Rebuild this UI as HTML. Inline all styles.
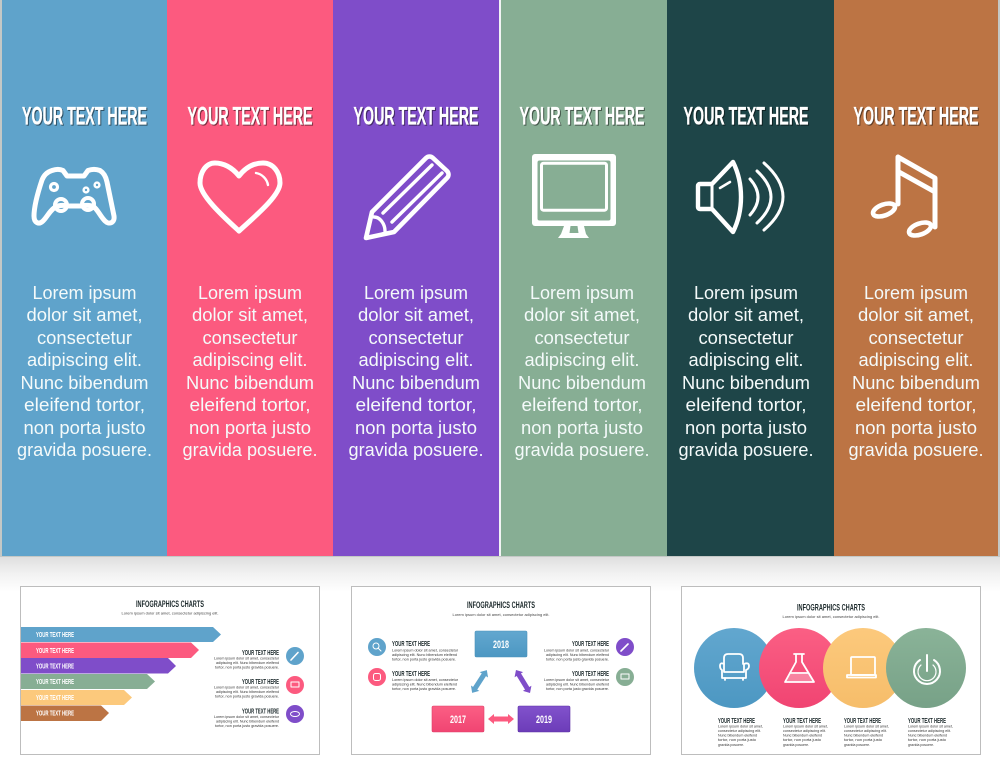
<!DOCTYPE html>
<html lang="en">
<head>
<meta charset="utf-8">
<title>Infographics Charts Template Preview</title>
<style>
html,body{margin:0;padding:0;background:#fff;width:1000px;height:778px;overflow:hidden}
svg{display:block}
.h{font-family:"Liberation Sans Narrow","Liberation Sans",sans-serif;font-weight:700}
.big{font-size:25px;fill:#fff;stroke:#fff;stroke-width:.35px;text-anchor:middle;filter:drop-shadow(1.5px 1.5px 0 rgba(0,0,0,.5))}
.body{font-family:"Liberation Sans",sans-serif;font-size:18px;fill:#f4fafa;text-anchor:middle}
.ic{fill:none;stroke:#fff;stroke-linecap:round;stroke-linejoin:round}
.tt{font-size:9px;fill:#1d2a2c;text-anchor:middle}
.sub{font-family:"Liberation Sans",sans-serif;font-size:4px;fill:#444;text-anchor:middle}
.lb{font-size:7.5px;fill:#fff}
.st{font-size:7.5px;fill:#1d2a2c}
.tx{font-family:"Liberation Sans",sans-serif;font-size:3.8px;fill:#333}
.yr{font-size:11px;fill:#fff;text-anchor:middle}
.tn{fill:none;stroke:#fff;stroke-linecap:round;stroke-linejoin:round}
.thumb{filter:blur(.3px)}
</style>
</head>
<body>
<svg width="1000" height="778" viewBox="0 0 1000 778" xmlns="http://www.w3.org/2000/svg">
<defs>
<linearGradient id="shade" x1="0" y1="0" x2="0" y2="1"><stop offset="0" stop-color="#dedede"/><stop offset=".5" stop-color="#f2f2f2"/><stop offset="1" stop-color="#ffffff"/></linearGradient>
<linearGradient id="gb" x1="0" y1="0" x2="0" y2="1"><stop offset="0" stop-color="#62a7cf"/><stop offset="1" stop-color="#4c97c2"/></linearGradient>
<linearGradient id="gp" x1="0" y1="0" x2="0" y2="1"><stop offset="0" stop-color="#fb5f84"/><stop offset="1" stop-color="#f04472"/></linearGradient>
<linearGradient id="gv" x1="0" y1="0" x2="0" y2="1"><stop offset="0" stop-color="#8152cc"/><stop offset="1" stop-color="#6c3cb8"/></linearGradient>
<linearGradient id="gy" x1="0" y1="0" x2="0" y2="1"><stop offset="0" stop-color="#fcc97c"/><stop offset="1" stop-color="#f6bd6a"/></linearGradient>
<linearGradient id="gg" x1="0" y1="0" x2="0" y2="1"><stop offset="0" stop-color="#8ab398"/><stop offset="1" stop-color="#77a187"/></linearGradient>
</defs>

<rect x="0" y="0" width="1000" height="778" fill="#fff"/>
<rect x="0" y="556" width="1000" height="36" fill="url(#shade)"/>

<g>
<rect x="0" y="0" width="1000" height="557" fill="#c4c8c6"/>
<rect x="2" y="0" width="165" height="556" fill="#5fa3cb"/>
<rect x="167" y="0" width="166" height="556" fill="#fc5a7f"/>
<rect x="333" y="0" width="166" height="556" fill="#7f4dc9"/>
<rect x="499" y="0" width="2" height="556" fill="#f2f4f4"/>
<rect x="501" y="0" width="166" height="556" fill="#87ae94"/>
<rect x="667" y="0" width="167" height="556" fill="#1e4548"/>
<rect x="834" y="0" width="164" height="556" fill="#bc7444"/>

<g class="h big">
<text x="84.5" y="124.500" textLength="125" lengthAdjust="spacingAndGlyphs">YOUR TEXT HERE</text>
<text x="250" y="124.500" textLength="125" lengthAdjust="spacingAndGlyphs">YOUR TEXT HERE</text>
<text x="416" y="124.500" textLength="125" lengthAdjust="spacingAndGlyphs">YOUR TEXT HERE</text>
<text x="582" y="124.500" textLength="125" lengthAdjust="spacingAndGlyphs">YOUR TEXT HERE</text>
<text x="746" y="124.500" textLength="125" lengthAdjust="spacingAndGlyphs">YOUR TEXT HERE</text>
<text x="916" y="124.500" textLength="125" lengthAdjust="spacingAndGlyphs">YOUR TEXT HERE</text>
</g>

<g class="ic" stroke-width="5">
<path d="M52 170.500 C56 169 60 169 63 170.500 L67 176 L84 176 L88 170.500 C92 169 96 169 100 170.500 C104 173 106 177 107 182 L114 216 C115 223 109 225 105 221 C100 216 98 210 94 207 C91 205 85 205 81 206 L68 206 C64 205 57 205 54 208 C49 212 47 217 43 221 C39 225 34 223 34 216 C34 206 38 192 42 180 C44 175 47 172 52 170.500Z"/>
<circle cx="54" cy="187" r="3.500" stroke-width="3.200"/><circle cx="86" cy="190" r="2.400" stroke-width="2.400"/><circle cx="97" cy="185" r="2.400" stroke-width="2.400"/><circle cx="61" cy="205" r="6" stroke-width="4"/><circle cx="88" cy="204" r="6" stroke-width="4"/>
</g>
<g class="ic" stroke-width="5">
<path d="M239 176 C232 167 223 163 215 163 C206 163 200 172 200 183 C200 196 226 219 239 231 C253 218 280 196 280 183 C280 172 273 163 263 163 C254 163 246 167 239 176Z"/>
<path d="M256 173 C262 174 267 179 268 185" stroke-width="2.400"/>
</g>
<g class="ic" stroke-width="4.600">
<path d="M366 238 L372 212 L426 158 C428 156 431 156 433 158 L447 171 C449 173 449 176 447 178 L394 232Z"/>
<path d="M383 213 L432 165 M392 222 L442 173 M374 217 C380 217 385 224 385 231" stroke-width="3.400"/>
</g>
<g>
<rect x="532" y="154" width="84" height="72" rx="3" fill="#fff"/>
<rect x="537.500" y="160.500" width="73" height="60" rx="2" fill="#87ae94"/>
<rect x="541.500" y="163.200" width="65" height="47" rx="2" fill="none" stroke="#fff" stroke-width="3"/>
<path d="M564 226 L584 226 L586 234 L589 238 L558 238 L561 234Z" fill="#fff"/>
<path d="M570.500 226 L577.500 226 L578.500 233 L569.500 233Z" fill="#87ae94"/>
</g>
<g class="ic" stroke-width="4.400">
<path d="M712 184 L700 184 Q698 184 698 186 L698 207 Q698 209 700 209 L712 209 L733 232 C739 220 741 208 741 197 C741 186 739 174 733 162Z"/>
<path d="M712 184 L712 209" stroke-width="3"/>
<path d="M720 188 L730 182" stroke-width="2.500"/>
<path d="M750 179 Q766 197 750 215 M757 171 Q785 197 757 223 M764 163 Q802 197 764 230" stroke-width="3"/>
</g>
<g class="ic" stroke-width="5">
<path d="M898 157 L898 204 M898 157 L935 178 L935 227 M899 172 L935 192"/>
<ellipse cx="884" cy="210" rx="11.500" ry="5.500" transform="rotate(-20 884 210)" stroke-width="4.600"/>
<ellipse cx="920" cy="229" rx="11.500" ry="5.500" transform="rotate(-20 920 229)" stroke-width="4.600"/>
</g>

<g class="body">
<text x="84.500" y="299" textLength="104" lengthAdjust="spacingAndGlyphs">Lorem ipsum</text>
<text x="84.500" y="321" textLength="116" lengthAdjust="spacingAndGlyphs">dolor sit amet,</text>
<text x="84.500" y="344" textLength="95" lengthAdjust="spacingAndGlyphs">consectetur</text>
<text x="84.500" y="366" textLength="115" lengthAdjust="spacingAndGlyphs">adipiscing elit.</text>
<text x="84.500" y="389" textLength="128" lengthAdjust="spacingAndGlyphs">Nunc bibendum</text>
<text x="84.500" y="411" textLength="121" lengthAdjust="spacingAndGlyphs">eleifend tortor,</text>
<text x="84.500" y="434" textLength="122" lengthAdjust="spacingAndGlyphs">non porta justo</text>
<text x="84.500" y="456" textLength="135" lengthAdjust="spacingAndGlyphs">gravida posuere.</text>
</g>
<g class="body">
<text x="250" y="299" textLength="104" lengthAdjust="spacingAndGlyphs">Lorem ipsum</text>
<text x="250" y="321" textLength="116" lengthAdjust="spacingAndGlyphs">dolor sit amet,</text>
<text x="250" y="344" textLength="95" lengthAdjust="spacingAndGlyphs">consectetur</text>
<text x="250" y="366" textLength="115" lengthAdjust="spacingAndGlyphs">adipiscing elit.</text>
<text x="250" y="389" textLength="128" lengthAdjust="spacingAndGlyphs">Nunc bibendum</text>
<text x="250" y="411" textLength="121" lengthAdjust="spacingAndGlyphs">eleifend tortor,</text>
<text x="250" y="434" textLength="122" lengthAdjust="spacingAndGlyphs">non porta justo</text>
<text x="250" y="456" textLength="135" lengthAdjust="spacingAndGlyphs">gravida posuere.</text>
</g>
<g class="body">
<text x="416" y="299" textLength="104" lengthAdjust="spacingAndGlyphs">Lorem ipsum</text>
<text x="416" y="321" textLength="116" lengthAdjust="spacingAndGlyphs">dolor sit amet,</text>
<text x="416" y="344" textLength="95" lengthAdjust="spacingAndGlyphs">consectetur</text>
<text x="416" y="366" textLength="115" lengthAdjust="spacingAndGlyphs">adipiscing elit.</text>
<text x="416" y="389" textLength="128" lengthAdjust="spacingAndGlyphs">Nunc bibendum</text>
<text x="416" y="411" textLength="121" lengthAdjust="spacingAndGlyphs">eleifend tortor,</text>
<text x="416" y="434" textLength="122" lengthAdjust="spacingAndGlyphs">non porta justo</text>
<text x="416" y="456" textLength="135" lengthAdjust="spacingAndGlyphs">gravida posuere.</text>
</g>
<g class="body">
<text x="582" y="299" textLength="104" lengthAdjust="spacingAndGlyphs">Lorem ipsum</text>
<text x="582" y="321" textLength="116" lengthAdjust="spacingAndGlyphs">dolor sit amet,</text>
<text x="582" y="344" textLength="95" lengthAdjust="spacingAndGlyphs">consectetur</text>
<text x="582" y="366" textLength="115" lengthAdjust="spacingAndGlyphs">adipiscing elit.</text>
<text x="582" y="389" textLength="128" lengthAdjust="spacingAndGlyphs">Nunc bibendum</text>
<text x="582" y="411" textLength="121" lengthAdjust="spacingAndGlyphs">eleifend tortor,</text>
<text x="582" y="434" textLength="122" lengthAdjust="spacingAndGlyphs">non porta justo</text>
<text x="582" y="456" textLength="135" lengthAdjust="spacingAndGlyphs">gravida posuere.</text>
</g>
<g class="body">
<text x="746" y="299" textLength="104" lengthAdjust="spacingAndGlyphs">Lorem ipsum</text>
<text x="746" y="321" textLength="116" lengthAdjust="spacingAndGlyphs">dolor sit amet,</text>
<text x="746" y="344" textLength="95" lengthAdjust="spacingAndGlyphs">consectetur</text>
<text x="746" y="366" textLength="115" lengthAdjust="spacingAndGlyphs">adipiscing elit.</text>
<text x="746" y="389" textLength="128" lengthAdjust="spacingAndGlyphs">Nunc bibendum</text>
<text x="746" y="411" textLength="121" lengthAdjust="spacingAndGlyphs">eleifend tortor,</text>
<text x="746" y="434" textLength="122" lengthAdjust="spacingAndGlyphs">non porta justo</text>
<text x="746" y="456" textLength="135" lengthAdjust="spacingAndGlyphs">gravida posuere.</text>
</g>
<g class="body">
<text x="916" y="299" textLength="104" lengthAdjust="spacingAndGlyphs">Lorem ipsum</text>
<text x="916" y="321" textLength="116" lengthAdjust="spacingAndGlyphs">dolor sit amet,</text>
<text x="916" y="344" textLength="95" lengthAdjust="spacingAndGlyphs">consectetur</text>
<text x="916" y="366" textLength="115" lengthAdjust="spacingAndGlyphs">adipiscing elit.</text>
<text x="916" y="389" textLength="128" lengthAdjust="spacingAndGlyphs">Nunc bibendum</text>
<text x="916" y="411" textLength="121" lengthAdjust="spacingAndGlyphs">eleifend tortor,</text>
<text x="916" y="434" textLength="122" lengthAdjust="spacingAndGlyphs">non porta justo</text>
<text x="916" y="456" textLength="135" lengthAdjust="spacingAndGlyphs">gravida posuere.</text>
</g>
</g>

<!-- Thumbnail 1 -->
<g class="thumb">
<rect x="20.500" y="586.500" width="299" height="168" fill="#fff" stroke="#bdbdbd"/>
<text class="h tt" x="170" y="607" textLength="68" lengthAdjust="spacingAndGlyphs">INFOGRAPHICS CHARTS</text>
<text class="sub" x="170" y="614.500" textLength="97" lengthAdjust="spacingAndGlyphs">Lorem ipsum dolor sit amet, consectetur adipiscing elit.</text>
<path d="M21 627 H213 L221 634.500 L213 642 H21Z" fill="#5fa3cb"/>
<path d="M21 642.500 H191 L199 650 L191 658 H21Z" fill="#fc5a7f"/>
<path d="M21 658 H168 L176 666 L168 673.500 H21Z" fill="#7f4dc9"/>
<path d="M21 674 H147 L155 681.500 L147 689 H21Z" fill="#87ae94"/>
<path d="M21 690 H124 L132 697.500 L124 705 H21Z" fill="#fcc97c"/>
<path d="M21 705.500 H101 L109 713 L101 721 H21Z" fill="#bc7444"/>
<g class="h lb">
<text x="36" y="637" textLength="38" lengthAdjust="spacingAndGlyphs">YOUR TEXT HERE</text>
<text x="36" y="653" textLength="38" lengthAdjust="spacingAndGlyphs">YOUR TEXT HERE</text>
<text x="36" y="668.500" textLength="38" lengthAdjust="spacingAndGlyphs">YOUR TEXT HERE</text>
<text x="36" y="684" textLength="38" lengthAdjust="spacingAndGlyphs">YOUR TEXT HERE</text>
<text x="36" y="700" textLength="38" lengthAdjust="spacingAndGlyphs">YOUR TEXT HERE</text>
<text x="36" y="715.500" textLength="38" lengthAdjust="spacingAndGlyphs">YOUR TEXT HERE</text>
</g>
<g class="h st">
<text x="242" y="655" textLength="37" lengthAdjust="spacingAndGlyphs">YOUR TEXT HERE</text>
<text x="242" y="684" textLength="37" lengthAdjust="spacingAndGlyphs">YOUR TEXT HERE</text>
<text x="242" y="713.500" textLength="37" lengthAdjust="spacingAndGlyphs">YOUR TEXT HERE</text>
</g>
<g class="tx">
<text x="214" y="659.500" textLength="65" lengthAdjust="spacingAndGlyphs">Lorem ipsum dolor sit amet, consectetur</text>
<text x="216" y="664" textLength="63" lengthAdjust="spacingAndGlyphs">adipiscing elit. Nunc bibendum eleifend</text>
<text x="215" y="668.500" textLength="64" lengthAdjust="spacingAndGlyphs">tortor, non porta justo gravida posuere.</text>
<text x="214" y="688.500" textLength="65" lengthAdjust="spacingAndGlyphs">Lorem ipsum dolor sit amet, consectetur</text>
<text x="216" y="693" textLength="63" lengthAdjust="spacingAndGlyphs">adipiscing elit. Nunc bibendum eleifend</text>
<text x="215" y="697.500" textLength="64" lengthAdjust="spacingAndGlyphs">tortor, non porta justo gravida posuere.</text>
<text x="214" y="718" textLength="65" lengthAdjust="spacingAndGlyphs">Lorem ipsum dolor sit amet, consectetur</text>
<text x="216" y="722.500" textLength="63" lengthAdjust="spacingAndGlyphs">adipiscing elit. Nunc bibendum eleifend</text>
<text x="215" y="727" textLength="64" lengthAdjust="spacingAndGlyphs">tortor, non porta justo gravida posuere.</text>
</g>
<g>
<circle cx="295" cy="656" r="9" fill="#5fa3cb"/><path class="tn" d="M291 660 L298 652.500" stroke-width="1.600"/>
<circle cx="295" cy="685" r="9" fill="#fc5a7f"/><rect class="tn" x="291" y="682" width="8" height="5"/>
<circle cx="295" cy="714" r="9" fill="#7f4dc9"/><ellipse class="tn" cx="295" cy="714" rx="4.500" ry="2.500"/>
</g>
</g>

<!-- Thumbnail 2 -->
<g class="thumb">
<rect x="351.500" y="586.500" width="299" height="168" fill="#fff" stroke="#bdbdbd"/>
<text class="h tt" x="501" y="608" textLength="68" lengthAdjust="spacingAndGlyphs">INFOGRAPHICS CHARTS</text>
<text class="sub" x="501" y="616" textLength="97" lengthAdjust="spacingAndGlyphs">Lorem ipsum dolor sit amet, consectetur adipiscing elit.</text>
<rect x="475" y="631" width="52" height="26" rx="1.500" fill="url(#gb)" stroke="#4c93bb" stroke-width=".6"/>
<rect x="432" y="706" width="52" height="26" rx="1.500" fill="url(#gp)" stroke="#e0406a" stroke-width=".6"/>
<rect x="518" y="706" width="52" height="26" rx="1.500" fill="url(#gv)" stroke="#5c30a4" stroke-width=".6"/>
<text class="h yr" x="501" y="648" textLength="16" lengthAdjust="spacingAndGlyphs">2018</text>
<text class="h yr" x="458" y="723" textLength="16" lengthAdjust="spacingAndGlyphs">2017</text>
<text class="h yr" x="544" y="723" textLength="16" lengthAdjust="spacingAndGlyphs">2019</text>
<path transform="translate(501 719)" d="M-13 0 L-7 -5 V-2.500 H7 V-5 L13 0 L7 5 V2.500 H-7 V5Z" fill="#fc5a7f"/>
<path transform="translate(479.500 681.500) rotate(-57)" d="M-13.500 0 L-8 -5 V-2.500 H8 V-5 L13.500 0 L8 5 V2.500 H-8 V5Z" fill="#5fa3cb"/>
<path transform="translate(523 681.500) rotate(58.700)" d="M-13.500 0 L-8 -5 V-2.500 H8 V-5 L13.500 0 L8 5 V2.500 H-8 V5Z" fill="#7f4dc9"/>
<g class="h st">
<text x="392" y="646" textLength="38" lengthAdjust="spacingAndGlyphs">YOUR TEXT HERE</text>
<text x="392" y="676" textLength="38" lengthAdjust="spacingAndGlyphs">YOUR TEXT HERE</text>
<text x="572" y="646" textLength="37" lengthAdjust="spacingAndGlyphs">YOUR TEXT HERE</text>
<text x="572" y="676" textLength="37" lengthAdjust="spacingAndGlyphs">YOUR TEXT HERE</text>
</g>
<g class="tx">
<text x="392" y="651.500" textLength="66" lengthAdjust="spacingAndGlyphs">Lorem ipsum dolor sit amet, consectetur</text>
<text x="392" y="656" textLength="65" lengthAdjust="spacingAndGlyphs">adipiscing elit. Nunc bibendum eleifend</text>
<text x="392" y="660.500" textLength="64" lengthAdjust="spacingAndGlyphs">tortor, non porta justo gravida posuere.</text>
<text x="392" y="681" textLength="66" lengthAdjust="spacingAndGlyphs">Lorem ipsum dolor sit amet, consectetur</text>
<text x="392" y="685.500" textLength="65" lengthAdjust="spacingAndGlyphs">adipiscing elit. Nunc bibendum eleifend</text>
<text x="392" y="690" textLength="64" lengthAdjust="spacingAndGlyphs">tortor, non porta justo gravida posuere.</text>
<text x="544" y="651.500" textLength="65" lengthAdjust="spacingAndGlyphs">Lorem ipsum dolor sit amet, consectetur</text>
<text x="546" y="656" textLength="63" lengthAdjust="spacingAndGlyphs">adipiscing elit. Nunc bibendum eleifend</text>
<text x="546" y="660.500" textLength="63" lengthAdjust="spacingAndGlyphs">tortor, non porta justo gravida posuere.</text>
<text x="544" y="681" textLength="65" lengthAdjust="spacingAndGlyphs">Lorem ipsum dolor sit amet, consectetur</text>
<text x="546" y="685.500" textLength="63" lengthAdjust="spacingAndGlyphs">adipiscing elit. Nunc bibendum eleifend</text>
<text x="546" y="690" textLength="63" lengthAdjust="spacingAndGlyphs">tortor, non porta justo gravida posuere.</text>
</g>
<g>
<circle cx="377" cy="647" r="9" fill="#5fa3cb"/><circle class="tn" cx="376" cy="646" r="3"/><path class="tn" d="M378 648 L381 651"/>
<circle cx="377" cy="677" r="9" fill="#fc5a7f"/><rect class="tn" x="373.500" y="673.500" width="7" height="7" rx="2"/>
<circle cx="625" cy="647" r="9" fill="#7f4dc9"/><path class="tn" d="M621 651 L628 644" stroke-width="1.600"/>
<circle cx="625" cy="677" r="9" fill="#87ae94"/><rect class="tn" x="621" y="674" width="8" height="5"/>
</g>
</g>

<!-- Thumbnail 3 -->
<g class="thumb">
<rect x="681.500" y="586.500" width="299" height="168" fill="#fff" stroke="#bdbdbd"/>
<text class="h tt" x="831" y="610.500" textLength="68" lengthAdjust="spacingAndGlyphs">INFOGRAPHICS CHARTS</text>
<text class="sub" x="831" y="618" textLength="97" lengthAdjust="spacingAndGlyphs">Lorem ipsum dolor sit amet, consectetur adipiscing elit.</text>
<circle cx="734" cy="668" r="40" fill="url(#gb)"/>
<circle cx="799" cy="668" r="40" fill="url(#gp)"/>
<circle cx="863" cy="668" r="40" fill="url(#gy)"/>
<circle cx="926" cy="668" r="40" fill="url(#gg)"/>
<g class="tn" stroke-width="1.800">
<path d="M724 664 V658 Q724 654 728 654 H739 Q743 654 743 658 V664"/>
<path d="M724 664 Q720 662 720 666 Q720 669 722 670 V678 H746 V670 Q749 669 749 666 Q749 662 744 664 V672 H724Z"/>
<path d="M725 678 V680 M743 678 V680"/>
</g>
<g class="tn" stroke-width="1.800">
<path d="M794 654 H804 M796 654 V662 L785 682 H814 L802 662 V654"/>
<path d="M790 673 H808"/>
</g>
<path d="M790 674 H809 L814 682 H785Z" fill="#fff" opacity=".3"/>
<g class="tn" stroke-width="1.800">
<rect x="851" y="657" width="24" height="18" rx="1"/>
<path d="M847 675 H876 V677.500 H847Z"/>
</g>
<g class="tn" stroke-width="2">
<path d="M927 655 V671"/>
<path d="M920 660 A13 13 0 1 0 934 660"/>
<path d="M921 665 A9 9 0 1 0 933 665" stroke-width="1.200"/>
</g>
<g class="h st">
<text x="718" y="723" textLength="37" lengthAdjust="spacingAndGlyphs">YOUR TEXT HERE</text>
<text x="783" y="723" textLength="38" lengthAdjust="spacingAndGlyphs">YOUR TEXT HERE</text>
<text x="844" y="723" textLength="37" lengthAdjust="spacingAndGlyphs">YOUR TEXT HERE</text>
<text x="908" y="723" textLength="38" lengthAdjust="spacingAndGlyphs">YOUR TEXT HERE</text>
</g>
<g class="tx">
<text x="718" y="727.500" textLength="45" lengthAdjust="spacingAndGlyphs">Lorem ipsum dolor sit amet,</text>
<text x="718" y="732" textLength="43" lengthAdjust="spacingAndGlyphs">consectetur adipiscing elit.</text>
<text x="718" y="736.500" textLength="39" lengthAdjust="spacingAndGlyphs">Nunc bibendum eleifend</text>
<text x="718" y="741" textLength="38" lengthAdjust="spacingAndGlyphs">tortor, non porta justo</text>
<text x="718" y="746" textLength="26" lengthAdjust="spacingAndGlyphs">gravida posuere.</text>
<text x="783" y="727.500" textLength="45" lengthAdjust="spacingAndGlyphs">Lorem ipsum dolor sit amet,</text>
<text x="783" y="732" textLength="43" lengthAdjust="spacingAndGlyphs">consectetur adipiscing elit.</text>
<text x="783" y="736.500" textLength="39" lengthAdjust="spacingAndGlyphs">Nunc bibendum eleifend</text>
<text x="783" y="741" textLength="38" lengthAdjust="spacingAndGlyphs">tortor, non porta justo</text>
<text x="783" y="746" textLength="26" lengthAdjust="spacingAndGlyphs">gravida posuere.</text>
<text x="844" y="727.500" textLength="45" lengthAdjust="spacingAndGlyphs">Lorem ipsum dolor sit amet,</text>
<text x="844" y="732" textLength="43" lengthAdjust="spacingAndGlyphs">consectetur adipiscing elit.</text>
<text x="844" y="736.500" textLength="39" lengthAdjust="spacingAndGlyphs">Nunc bibendum eleifend</text>
<text x="844" y="741" textLength="38" lengthAdjust="spacingAndGlyphs">tortor, non porta justo</text>
<text x="844" y="746" textLength="26" lengthAdjust="spacingAndGlyphs">gravida posuere.</text>
<text x="908" y="727.500" textLength="45" lengthAdjust="spacingAndGlyphs">Lorem ipsum dolor sit amet,</text>
<text x="908" y="732" textLength="43" lengthAdjust="spacingAndGlyphs">consectetur adipiscing elit.</text>
<text x="908" y="736.500" textLength="39" lengthAdjust="spacingAndGlyphs">Nunc bibendum eleifend</text>
<text x="908" y="741" textLength="38" lengthAdjust="spacingAndGlyphs">tortor, non porta justo</text>
<text x="908" y="746" textLength="26" lengthAdjust="spacingAndGlyphs">gravida posuere.</text>
</g>
</g>
</svg>
</body>
</html>
